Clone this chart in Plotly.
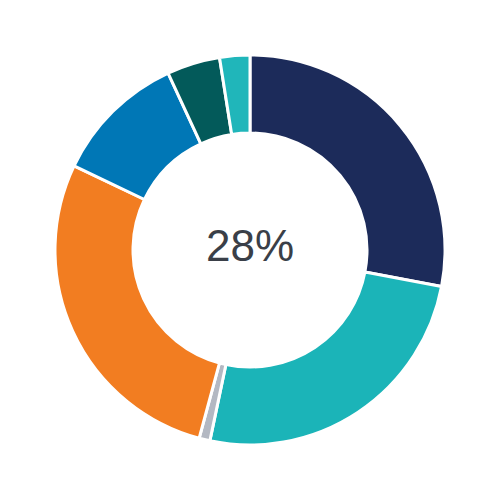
import plotly.graph_objects as go

labels = ["A", "B", "C", "D", "E", "F", "G"]
values = [28, 25.3, 0.9, 27.9, 11.0, 4.4, 2.5]
colors = ["#1c2b5a", "#1bb4b8", "#b3b8c2", "#f27d21", "#0077b6", "#035a5a", "#20b6ba"]
center_text = "28%"

fig = go.Figure(go.Pie(
    labels=labels,
    values=values,
    hole=0.6,
    sort=False,
    direction="clockwise",
    rotation=0,
    marker=dict(colors=colors, line=dict(color="white", width=3)),
    textinfo="none",
    hoverinfo="label+percent",
))

fig.update_layout(
    width=500,
    height=500,
    margin=dict(l=47, r=63, t=47, b=63),
    showlegend=False,
    paper_bgcolor="white",
    annotations=[dict(
        text=center_text, x=0.5, y=0.512, xref="paper", yref="paper",
        showarrow=False, font=dict(family="Liberation Sans, Arial", size=44, color="#3a3f48"),
    )],
)

fig.write_html("out.html")
